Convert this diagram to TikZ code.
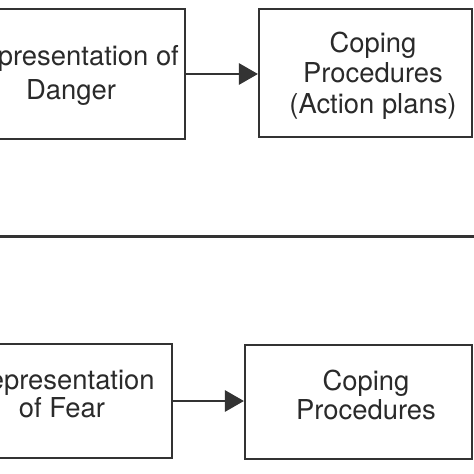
\documentclass[tikz,border=0pt]{standalone}
\usepackage{fontspec}
\setmainfont{TeX Gyre Heros}
\usetikzlibrary{arrows.meta}
\definecolor{ink}{HTML}{333333}
\definecolor{txt}{HTML}{2A2A2A}
\tikzset{
  boxnode/.style={draw=ink, line width=2.1bp, inner sep=0pt},
  label/.style={text=txt, inner sep=0pt, align=center,
    font=\fontsize{27.4bp}{30.5bp}\selectfont},
  arr/.style={draw=ink, line width=2.8bp, -{Triangle[length=19bp,width=21bp]}},
}
\begin{document}
\begin{tikzpicture}[x=1bp,y=-1bp]
\useasboundingbox (0,0) rectangle (474,474);
\clip (0,0) rectangle (474,474);
% top boxes
\node[boxnode, minimum width=228bp, minimum height=130bp] (A) at (71,74) {};
\node[boxnode, minimum width=213bp, minimum height=128bp] (B) at (365.5,73) {};
\node[label, font=\fontsize{27.4bp}{34bp}\selectfont] (At) at (71,75.5) {Representation of\\Danger};
\node[label] (Bt) at (373,75.5) {Coping\\Procedures\\(Action plans)};
\draw[arr] (A.east) -- (A.east -| B.west);
% divider
\coordinate (L1) at (0,236);
\coordinate (L2) at (474,236);
\draw[ink, line width=3bp] (L1) -- (L2);
% bottom boxes
\node[boxnode, minimum width=226bp, minimum height=114bp] (C) at (59,401) {};
\node[boxnode, minimum width=227bp, minimum height=114bp] (D) at (358.5,402) {};
\node[label, font=\fontsize{27.4bp}{28.5bp}\selectfont] (Ct) at (62,393.5) {Representation\\of Fear};
\node[label, font=\fontsize{27.4bp}{28.5bp}\selectfont] (Dt) at (366,395) {Coping\\Procedures};
\draw[arr] (C.east) -- (C.east -| D.west);
\end{tikzpicture}
\end{document}
